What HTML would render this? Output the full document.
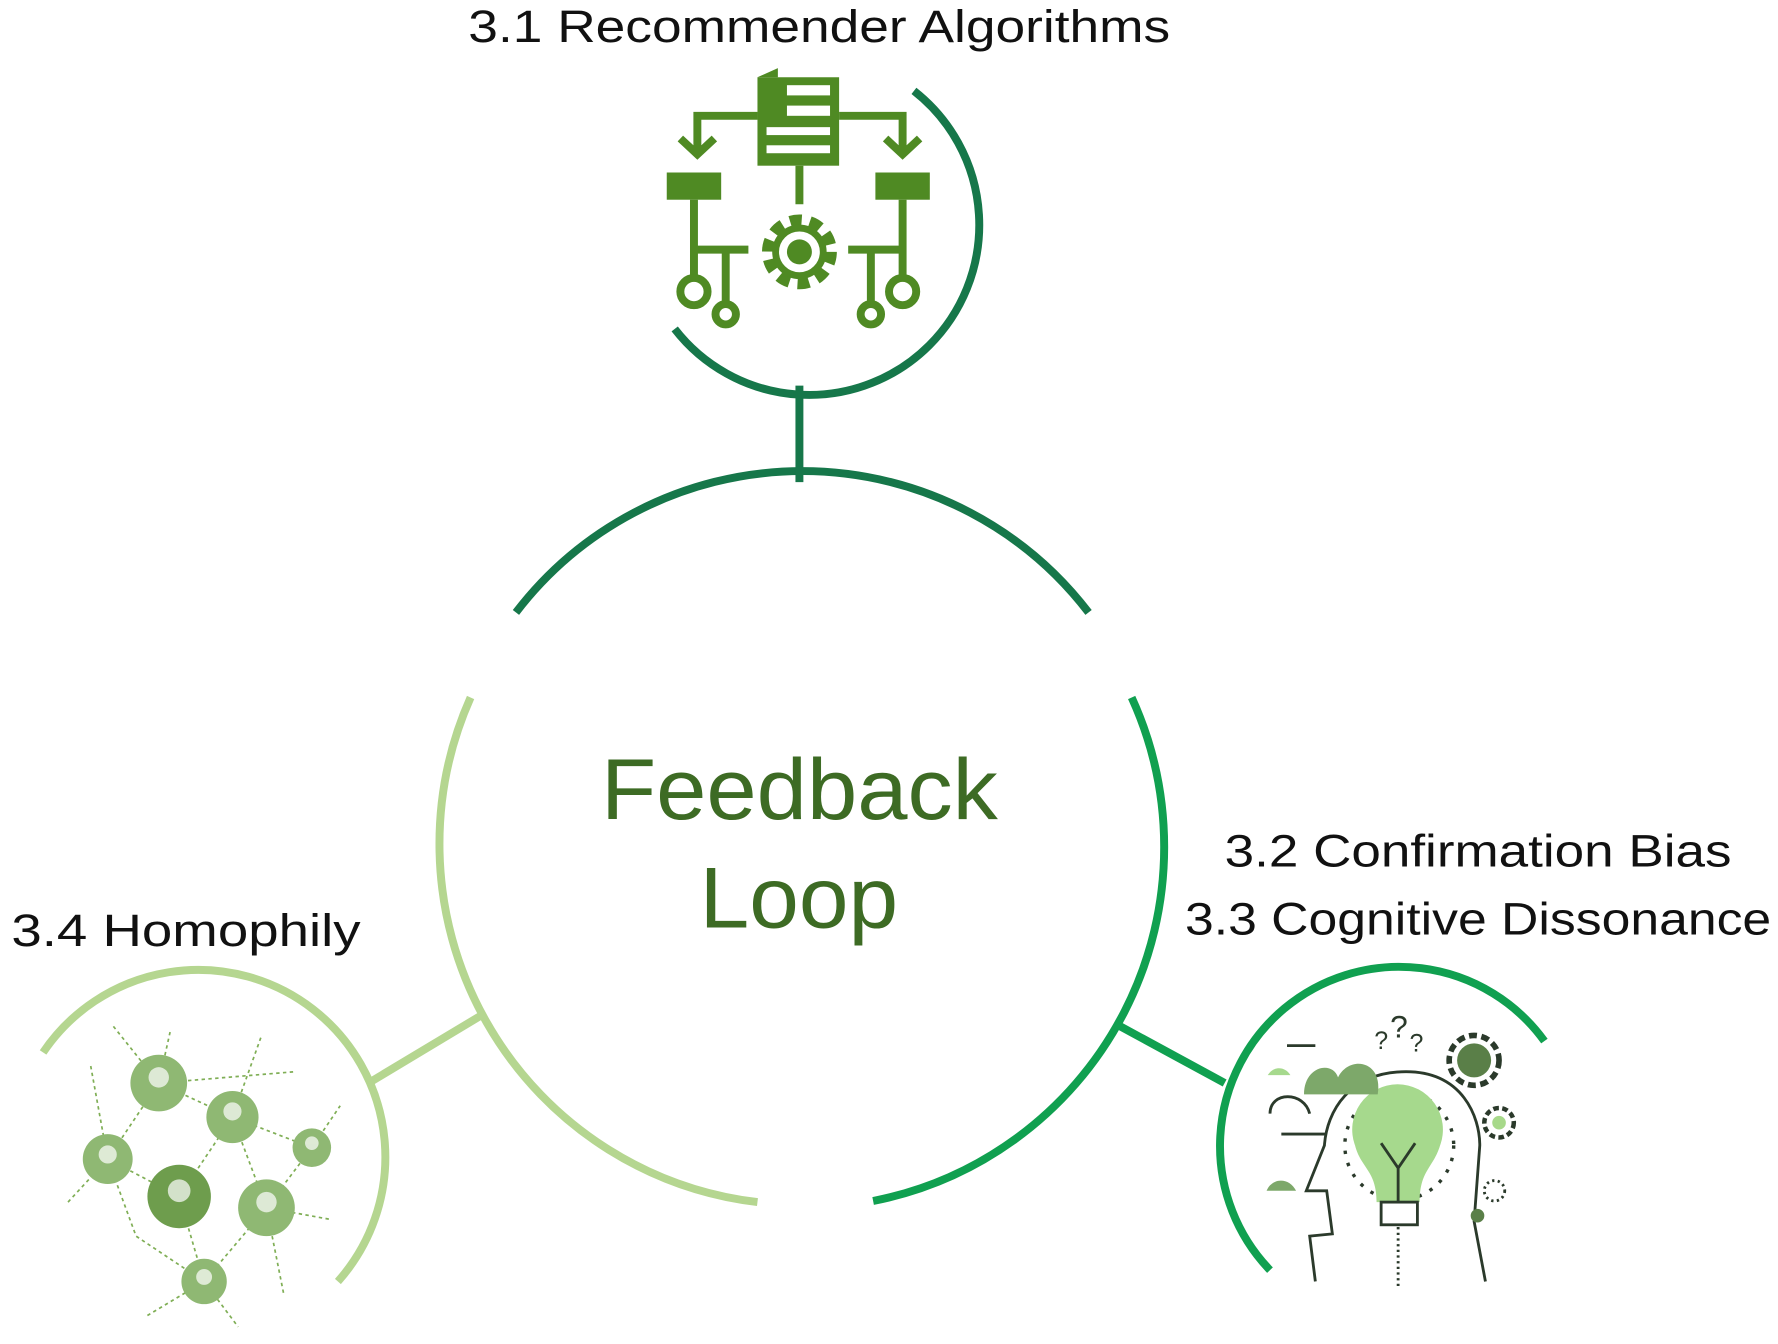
<!DOCTYPE html>
<html><head><meta charset="utf-8"><style>html,body{margin:0;padding:0;background:#fff}svg{display:block}</style></head>
<body>
<svg width="1778" height="1344" viewBox="0 0 1568 1185" xmlns="http://www.w3.org/2000/svg">
<g font-family="Liberation Sans, sans-serif">
<text x="413" y="37" font-size="40" fill="#111" textLength="619" lengthAdjust="spacingAndGlyphs">3.1  Recommender Algorithms</text>
<text x="1080" y="764" font-size="40" fill="#111" textLength="447" lengthAdjust="spacingAndGlyphs">3.2  Confirmation Bias</text>
<text x="1045" y="824" font-size="40" fill="#111" textLength="517" lengthAdjust="spacingAndGlyphs">3.3  Cognitive Dissonance</text>
<text x="10" y="834" font-size="40" fill="#111" textLength="308" lengthAdjust="spacingAndGlyphs">3.4  Homophily</text>
<text x="530" y="722" font-size="76" fill="#3d6b24" textLength="350" lengthAdjust="spacingAndGlyphs">Feedback</text>
<text x="617" y="818" font-size="76" fill="#3d6b24" textLength="175" lengthAdjust="spacingAndGlyphs">Loop</text>
</g>
<g fill="none" stroke-width="7">
<path d="M455,540 A318,318 0 0 1 960,540" stroke="#16774a"/>
<path d="M415,615 A318,318 0 0 0 668,1060" stroke="#b5d690"/>
<path d="M998,615 A318,318 0 0 1 770,1059" stroke="#10a050"/>
<line x1="705" y1="340" x2="705" y2="425" stroke="#16774a"/>
<line x1="425" y1="895" x2="325" y2="955" stroke="#b5d690"/>
<line x1="988" y1="905" x2="1080" y2="955" stroke="#10a050"/>
<path d="M806,80 A150,150 0 1 1 595,290" stroke="#16774a"/>
<path d="M38,928 A165,165 0 1 1 298,1130" stroke="#b5d690"/>
<path d="M1120,1120 A158,158 0 1 1 1362,918" stroke="#10a050"/>
</g>
<g fill="#4f8a23" stroke="none">
<rect x="668" y="68" width="72" height="78"/>
<polygon points="668,68 686,60 686,68"/>
<rect x="588" y="152" width="48" height="24"/>
<rect x="772" y="152" width="48" height="24"/>
</g>
<g fill="#fff"><rect x="694" y="75" width="38" height="9"/><rect x="694" y="93" width="38" height="9"/><rect x="676" y="112" width="56" height="7"/><rect x="676" y="128" width="56" height="7"/></g>
<g fill="none" stroke="#4f8a23" stroke-width="7">
<path d="M668,102 H615 V135 M600,122 L615,136 L630,122"/>
<path d="M740,102 H796 V135 M781,122 L796,136 L811,122"/>
<line x1="705" y1="146" x2="705" y2="180"/>
<path d="M612,176 V242 M612,220 H660 M640,220 V268"/>
<path d="M796,176 V242 M796,220 H748 M768,220 V268"/>
<circle cx="612" cy="257" r="12"/><circle cx="640" cy="277" r="9"/>
<circle cx="796" cy="257" r="12"/><circle cx="768" cy="277" r="9"/>
<circle cx="705" cy="222" r="27" stroke-width="12" stroke-dasharray="10 7"/>
<circle cx="705" cy="222" r="21" stroke-width="6"/>
</g>
<circle cx="705" cy="222" r="11" fill="#4f8a23"/>
<g stroke="#7fae55" stroke-width="1.5" fill="none" stroke-dasharray="3 3">
<path d="M100,905 L140,955 L205,985 L275,1012 L235,1065 L180,1130 L158,1055 L95,1022 L140,955 M158,1055 L205,985 L235,1065 M80,940 L95,1022 L120,1090 L180,1130 M275,1012 L300,975 M230,915 L205,985 M290,1075 L235,1065 M130,1160 L180,1130 L210,1170 M60,1060 L95,1022 M250,1140 L235,1065 M150,910 L140,955 L260,945"/>
</g>
<g fill="#8fb873">
<circle cx="140" cy="955" r="25"/><circle cx="205" cy="985" r="23"/><circle cx="95" cy="1022" r="22"/>
<circle cx="275" cy="1012" r="17"/><circle cx="158" cy="1055" r="28" fill="#6e9d4d"/><circle cx="235" cy="1065" r="25"/><circle cx="180" cy="1130" r="20"/>
</g>
<g fill="#fff" opacity="0.7"><circle cx="140" cy="950" r="9"/><circle cx="205" cy="980" r="8"/><circle cx="95" cy="1018" r="8"/><circle cx="158" cy="1050" r="10"/><circle cx="235" cy="1060" r="9"/><circle cx="180" cy="1126" r="7"/><circle cx="275" cy="1008" r="6"/></g>
<g fill="none" stroke="#2b3a2b" stroke-width="2.5">
<path d="M1160,1130 L1155,1090 L1175,1088 L1170,1050 L1152,1050 L1168,1010 C1170,980 1190,945 1240,945 C1290,945 1305,985 1305,1010 L1300,1077 L1310,1130"/>
<circle cx="1234" cy="1010" r="48" stroke-dasharray="3 8" stroke-width="3"/>
<circle cx="1300" cy="935" r="22" stroke-dasharray="7 4" stroke-width="5"/>
<circle cx="1322" cy="990" r="13" stroke-dasharray="5 3" stroke-width="4"/>
<circle cx="1318" cy="1050" r="9" stroke-dasharray="2 3"/>
<path d="M1130,1000 h40 M1120,982 c0,-20 30,-20 35,0 M1135,922 h25"/>
</g>
<circle cx="1300" cy="935" r="15" fill="#5a7f48"/>
<circle cx="1322" cy="990" r="6" fill="#a7d98a"/>
<circle cx="1303" cy="1072" r="6" fill="#5a7f48"/>
<path d="M1195,1010 a40,40 0 1 1 75,0 c-6,20 -18,22 -18,50 h-38 c0,-28 -14,-30 -19,-50z" fill="#a6d98d"/>
<g stroke="#2b3a2b" stroke-width="2.5" fill="none"><path d="M1218,1008 L1233,1030 L1248,1008 M1233,1030 V1060"/><rect x="1218" y="1060" width="32" height="20"/><path d="M1233,1082 V1135" stroke-dasharray="2 3"/></g>
<path d="M1150,965 c0,-25 25,-30 30,-15 c10,-20 40,-15 35,15z" fill="#7da86a"/>
<path d="M1118,948 c5,-8 15,-8 20,0z" fill="#a6d98d"/>
<path d="M1117,1050 c5,-12 20,-12 26,0z" fill="#7da86a"/>
<text x="1212" y="925" font-family="Liberation Sans, sans-serif" font-size="22" fill="#2b3a2b">?</text>
<text x="1226" y="915" font-family="Liberation Sans, sans-serif" font-size="28" fill="#2b3a2b">?</text>
<text x="1243" y="927" font-family="Liberation Sans, sans-serif" font-size="22" fill="#2b3a2b">?</text>
</svg>
</body></html>
